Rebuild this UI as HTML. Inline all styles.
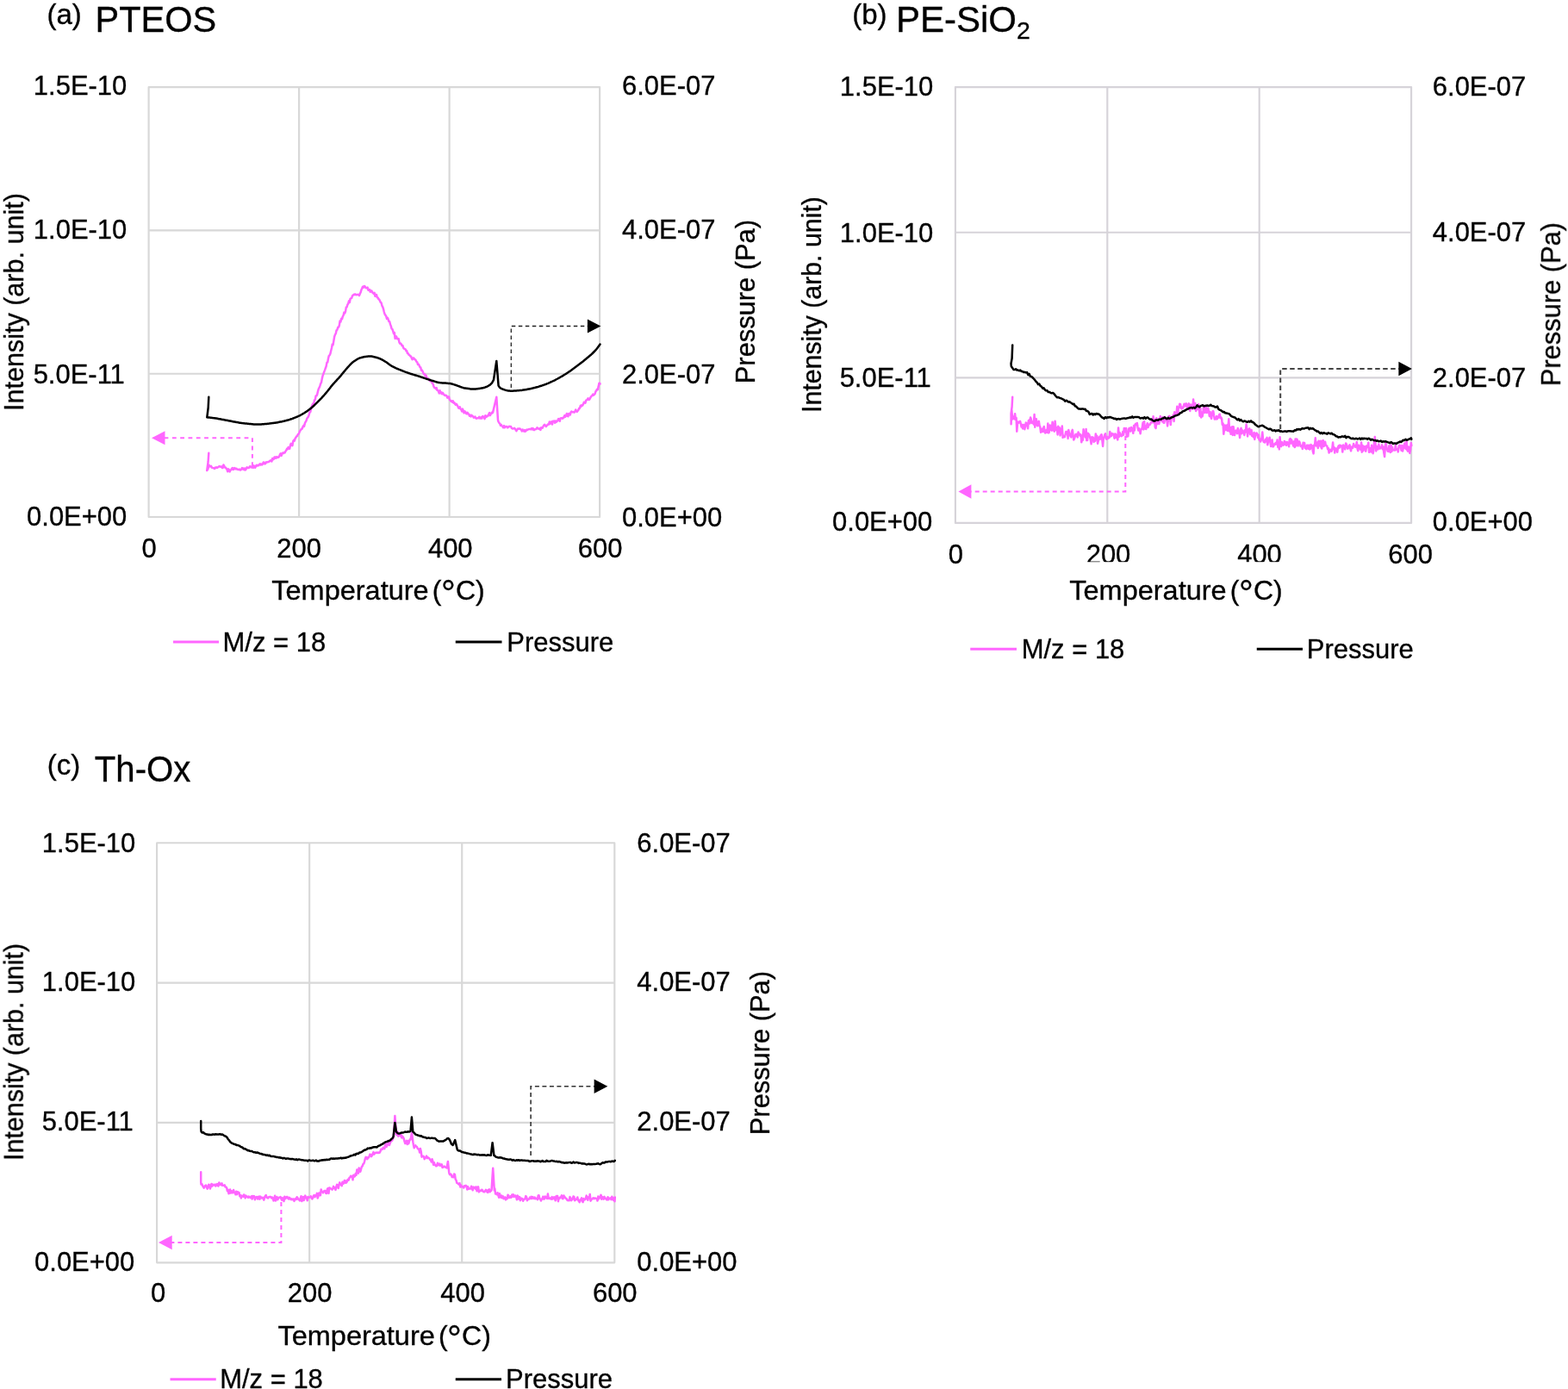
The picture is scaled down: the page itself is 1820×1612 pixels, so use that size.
<!DOCTYPE html>
<html lang="en"><head><meta charset="utf-8"><title>TDS spectra</title>
<style>
html,body{margin:0;padding:0;background:#fff;}
body{width:1820px;height:1612px;overflow:hidden;}
svg{display:block;}
text{font-family:"Liberation Sans",Arial,Helvetica,sans-serif;fill:#000;stroke:#000;stroke-width:0.35px;}
</style></head>
<body>
<svg width="1820" height="1612" viewBox="0 0 1820 1612">
<defs><filter id="soft" filterUnits="userSpaceOnUse" x="0" y="0" width="1820" height="1612" color-interpolation-filters="sRGB"><feGaussianBlur stdDeviation="0.55"/></filter></defs>
<rect width="1820" height="1612" fill="#fff"/>
<g filter="url(#soft)">
<path d="M347.10,101.10 V600.00 M521.60,101.10 V600.00 M172.60,267.40 H696.10 M172.60,433.70 H696.10 M172.60,101.10 H696.10 V600.00 H172.60 Z" fill="none" stroke="#d8d8d8" stroke-width="2.15" stroke-linejoin="round"/>
<text font-size="32" text-anchor="end" transform="translate(147.3 110.2) scale(0.968 1)">1.5E-10</text>
<text font-size="32" text-anchor="end" transform="translate(147.3 277.2) scale(0.968 1)">1.0E-10</text>
<text font-size="32" text-anchor="end" transform="translate(144.8 445.2) scale(0.968 1)">5.0E-11</text>
<text font-size="32" text-anchor="end" transform="translate(147.3 610.2) scale(0.968 1)">0.0E+00</text>
<text font-size="32" text-anchor="start" transform="translate(722.0 110.1) scale(0.968 1)">6.0E-07</text>
<text font-size="32" text-anchor="start" transform="translate(722.0 277.2) scale(0.968 1)">4.0E-07</text>
<text font-size="32" text-anchor="start" transform="translate(722.0 444.7) scale(0.968 1)">2.0E-07</text>
<text font-size="32" text-anchor="start" transform="translate(722.0 610.5) scale(0.968 1)">0.0E+00</text>
<text font-size="32" text-anchor="middle" transform="translate(173 647.2) scale(0.968 1)">0</text>
<text font-size="32" text-anchor="middle" transform="translate(347.2 647.2) scale(0.968 1)">200</text>
<text font-size="32" text-anchor="middle" transform="translate(522.75 647.2) scale(0.968 1)">400</text>
<text font-size="32" text-anchor="middle" transform="translate(696.6 647.2) scale(0.968 1)">600</text>
<text y="696.3" font-size="32"><tspan x="315.3" textLength="182.3" lengthAdjust="spacingAndGlyphs">Temperature</tspan><tspan x="492.9"> (</tspan><tspan x="511.9" dy="7.0" font-size="42">°</tspan><tspan x="528.9" dy="-7.0">C)</tspan></text>
<text font-size="32" transform="translate(27 477) rotate(-90) scale(0.955 1)">Intensity (arb. unit)</text>
<text font-size="32" transform="translate(875.6 445.2) rotate(-90) scale(0.964 1)">Pressure (Pa)</text>
<path d="M201,745 H254" stroke="#ff66ff" stroke-width="2.8" fill="none"/>
<text font-size="32" text-anchor="start" transform="translate(258.5 755.6) scale(0.968 1)">M/z = 18</text>
<path d="M528.75,745 H582.5" stroke="#000" stroke-width="2.8" fill="none"/>
<text font-size="32" text-anchor="start" transform="translate(588.3 755.6) scale(0.968 1)">Pressure</text>
<text x="54.5" y="28.0" font-size="33" text-anchor="start">(a)</text>
<text x="110.5" y="37.4" font-size="41.8" textLength="140.6" lengthAdjust="spacingAndGlyphs">PTEOS</text>
<path d="M242.3,525.8 L241.6,536.0 L240.2,546.1 L241.0,545.0 L241.8,542.8 L242.6,539.7 L243.4,541.4 L244.2,541.2 L245.0,540.9 L245.8,542.6 L246.6,542.9 L247.4,543.2 L248.2,543.2 L249.0,543.9 L249.8,542.6 L250.6,543.0 L251.4,542.2 L252.2,542.9 L253.0,542.2 L253.8,541.7 L254.6,541.1 L255.4,541.6 L256.2,541.8 L257.0,541.4 L257.8,542.9 L258.6,542.9 L259.4,539.5 L260.2,540.7 L261.0,542.6 L261.8,542.6 L262.6,543.7 L263.4,544.6 L264.2,547.2 L265.0,544.3 L265.8,545.1 L266.6,547.4 L267.4,545.6 L268.2,545.3 L269.0,543.9 L269.8,543.0 L270.6,544.9 L271.4,544.7 L272.2,543.1 L273.0,543.6 L273.8,544.4 L274.6,543.7 L275.4,544.7 L276.2,544.9 L277.0,545.0 L277.8,544.5 L278.6,545.5 L279.4,545.5 L280.2,544.5 L281.0,543.0 L281.8,544.5 L282.6,543.5 L283.4,545.3 L284.2,543.6 L285.0,545.4 L285.8,544.0 L286.6,542.4 L287.4,542.9 L288.2,542.9 L289.0,542.9 L289.8,541.5 L290.6,541.2 L291.4,542.4 L292.2,541.7 L293.0,542.4 L293.8,542.9 L294.6,540.4 L295.4,542.1 L296.2,542.8 L297.0,540.9 L297.8,539.7 L298.6,540.6 L299.4,539.7 L300.2,540.3 L301.0,539.3 L301.8,538.3 L302.6,539.4 L303.4,538.6 L304.2,539.4 L305.0,538.5 L305.8,536.4 L306.6,536.6 L307.4,538.4 L308.2,538.0 L309.0,536.3 L309.8,536.4 L310.6,536.3 L311.4,535.9 L312.2,536.0 L313.0,535.0 L313.8,534.4 L314.6,534.2 L315.4,535.5 L316.2,531.9 L317.0,533.3 L317.8,532.7 L318.6,530.5 L319.4,531.7 L320.2,530.3 L321.0,531.5 L321.8,530.2 L322.6,530.7 L323.4,530.7 L324.2,529.3 L325.0,527.5 L325.8,526.2 L326.6,528.9 L327.4,526.5 L328.2,525.5 L329.0,526.0 L329.8,525.2 L330.6,525.4 L331.4,523.7 L332.2,522.7 L333.0,520.9 L333.8,521.2 L334.6,519.1 L335.4,520.4 L336.2,520.8 L337.0,516.8 L337.8,514.8 L338.6,516.6 L339.4,517.1 L340.2,512.2 L341.0,510.8 L341.8,511.6 L342.6,508.9 L343.4,507.8 L344.2,506.4 L345.0,506.1 L345.8,504.2 L346.6,503.8 L347.4,502.0 L348.2,499.9 L349.0,499.3 L349.8,497.7 L350.6,497.7 L351.4,495.5 L352.2,494.1 L353.0,494.9 L353.8,491.6 L354.6,489.7 L355.4,488.6 L356.2,486.0 L357.0,484.7 L357.8,483.7 L358.6,481.8 L359.4,478.4 L360.2,478.2 L361.0,474.4 L361.8,471.7 L362.6,469.7 L363.4,468.3 L364.2,468.6 L365.0,464.3 L365.8,463.9 L366.6,459.5 L367.4,459.3 L368.2,457.8 L369.0,454.1 L369.8,451.3 L370.6,449.9 L371.4,447.9 L372.2,445.2 L373.0,443.8 L373.8,439.4 L374.6,436.0 L375.4,434.0 L376.2,431.6 L377.0,429.6 L377.8,427.3 L378.6,425.3 L379.4,420.9 L380.2,420.5 L381.0,416.2 L381.8,412.9 L382.6,412.3 L383.4,410.5 L384.2,407.0 L385.0,403.7 L385.8,399.4 L386.6,400.1 L387.4,395.2 L388.2,390.5 L389.0,388.4 L389.8,387.0 L390.6,383.2 L391.4,382.7 L392.2,380.0 L393.0,379.7 L393.8,377.7 L394.6,372.4 L395.4,373.4 L396.2,369.7 L397.0,370.3 L397.8,367.4 L398.6,366.0 L399.4,362.6 L400.2,363.5 L401.0,361.6 L401.8,356.6 L402.6,356.3 L403.4,353.5 L404.2,352.4 L405.0,349.4 L405.8,351.0 L406.6,346.8 L407.4,346.3 L408.2,345.8 L409.0,343.3 L409.8,342.7 L410.6,341.8 L411.4,342.1 L412.2,341.3 L413.0,342.1 L413.8,342.2 L414.6,341.8 L415.4,342.1 L416.2,341.8 L417.0,342.9 L417.8,341.0 L418.6,339.3 L419.4,336.5 L420.2,334.7 L421.0,332.7 L421.8,333.8 L422.6,332.0 L423.4,332.2 L424.2,333.5 L425.0,334.2 L425.8,334.3 L426.6,333.6 L427.4,336.6 L428.2,337.0 L429.0,336.0 L429.8,338.7 L430.6,337.6 L431.4,337.6 L432.2,339.4 L433.0,339.9 L433.8,340.9 L434.6,339.7 L435.4,343.8 L436.2,342.1 L437.0,342.1 L437.8,345.3 L438.6,345.4 L439.4,347.1 L440.2,347.6 L441.0,349.2 L441.8,350.9 L442.6,351.5 L443.4,354.8 L444.2,356.2 L445.0,358.5 L445.8,362.0 L446.6,364.6 L447.4,365.8 L448.2,367.0 L449.0,370.0 L449.8,368.8 L450.6,370.6 L451.4,373.0 L452.2,373.2 L453.0,376.4 L453.8,378.4 L454.6,381.5 L455.4,382.0 L456.2,384.3 L457.0,387.2 L457.8,386.0 L458.6,392.9 L459.4,390.1 L460.2,390.8 L461.0,393.2 L461.8,393.4 L462.6,393.1 L463.4,397.1 L464.2,398.7 L465.0,398.4 L465.8,399.5 L466.6,401.2 L467.4,401.0 L468.2,403.6 L469.0,404.6 L469.8,405.0 L470.6,405.3 L471.4,407.2 L472.2,407.3 L473.0,410.1 L473.8,410.3 L474.6,411.9 L475.4,412.2 L476.2,413.4 L477.0,413.4 L477.8,415.6 L478.6,417.2 L479.4,415.4 L480.2,415.5 L481.0,416.7 L481.8,417.3 L482.6,418.0 L483.4,419.7 L484.2,420.2 L485.0,423.0 L485.8,422.7 L486.6,424.1 L487.4,426.1 L488.2,426.4 L489.0,429.8 L489.8,429.6 L490.6,431.1 L491.4,433.0 L492.2,434.4 L493.0,434.1 L493.8,436.5 L494.6,435.7 L495.4,439.5 L496.2,438.9 L497.0,439.4 L497.8,440.3 L498.6,441.6 L499.4,442.3 L500.2,442.1 L501.0,443.1 L501.8,444.9 L502.6,445.7 L503.4,448.4 L504.2,449.9 L505.0,449.9 L505.8,451.2 L506.6,450.1 L507.4,452.8 L508.2,453.0 L509.0,454.5 L509.8,456.4 L510.6,453.3 L511.4,456.3 L512.2,455.3 L513.0,457.3 L513.8,455.8 L514.6,457.0 L515.4,458.0 L516.2,458.8 L517.0,458.9 L517.8,458.8 L518.6,459.7 L519.4,461.7 L520.2,461.4 L521.0,460.4 L521.8,463.8 L522.6,464.4 L523.4,465.7 L524.2,465.2 L525.0,466.8 L525.8,465.4 L526.6,467.6 L527.4,467.2 L528.2,469.0 L529.0,469.9 L529.8,468.8 L530.6,470.3 L531.4,471.4 L532.2,473.5 L533.0,473.7 L533.8,472.3 L534.6,474.6 L535.4,475.5 L536.2,477.5 L537.0,474.6 L537.8,476.6 L538.6,479.3 L539.4,477.3 L540.2,477.9 L541.0,479.9 L541.8,480.3 L542.6,478.8 L543.4,480.4 L544.2,480.7 L545.0,482.7 L545.8,481.8 L546.6,483.4 L547.4,481.9 L548.2,482.9 L549.0,483.2 L549.8,484.7 L550.6,484.4 L551.4,483.5 L552.2,485.3 L553.0,485.8 L553.8,485.2 L554.6,485.2 L555.4,485.3 L556.2,483.8 L557.0,485.6 L557.8,485.5 L558.6,484.2 L559.4,485.5 L560.2,483.1 L561.0,483.7 L561.8,483.8 L562.6,486.1 L563.4,482.2 L564.2,484.0 L565.0,483.7 L565.8,482.4 L566.6,482.6 L567.4,480.3 L568.2,479.0 L569.0,482.1 L569.8,479.8 L570.6,480.0 L571.4,478.3 L572.0,478.9 L576.3,460.7 L578.0,487.6 L578.6,489.5 L579.4,490.9 L580.2,491.6 L581.0,493.8 L581.8,493.0 L582.6,494.5 L583.4,495.0 L584.2,496.2 L585.0,494.1 L585.8,496.3 L586.6,495.1 L587.4,495.1 L588.2,494.9 L589.0,496.3 L589.8,496.0 L590.6,494.9 L591.4,494.8 L592.2,495.1 L593.0,494.9 L593.8,496.7 L594.6,497.4 L595.4,497.4 L596.2,497.3 L597.0,496.8 L597.8,497.7 L598.6,498.8 L599.4,500.1 L600.2,498.8 L601.0,497.5 L601.8,497.8 L602.6,497.4 L603.4,497.4 L604.2,498.3 L605.0,498.8 L605.8,500.4 L606.6,498.5 L607.4,500.0 L608.2,500.6 L609.0,499.1 L609.8,500.7 L610.6,499.8 L611.4,498.6 L612.2,498.9 L613.0,498.5 L613.8,498.1 L614.6,497.9 L615.4,498.0 L616.2,498.3 L617.0,497.1 L617.8,498.3 L618.6,497.1 L619.4,498.9 L620.2,499.0 L621.0,498.2 L621.8,497.9 L622.6,497.9 L623.4,496.4 L624.2,496.9 L625.0,497.6 L625.8,497.9 L626.6,497.0 L627.4,498.9 L628.2,496.2 L629.0,496.9 L629.8,496.6 L630.6,494.6 L631.4,493.4 L632.2,492.7 L633.0,493.9 L633.8,494.9 L634.6,493.9 L635.4,493.3 L636.2,492.2 L637.0,492.5 L637.8,489.5 L638.6,491.7 L639.4,491.1 L640.2,489.3 L641.0,492.5 L641.8,488.7 L642.6,488.9 L643.4,488.5 L644.2,490.7 L645.0,488.5 L645.8,489.7 L646.6,488.9 L647.4,488.0 L648.2,486.1 L649.0,486.7 L649.8,488.8 L650.6,485.4 L651.4,485.3 L652.2,485.3 L653.0,485.7 L653.8,484.6 L654.6,484.5 L655.4,482.1 L656.2,483.6 L657.0,482.7 L657.8,480.0 L658.6,482.8 L659.4,483.3 L660.2,480.0 L661.0,480.5 L661.8,481.5 L662.6,478.3 L663.4,477.5 L664.2,478.0 L665.0,478.4 L665.8,478.0 L666.6,478.6 L667.4,477.7 L668.2,475.5 L669.0,476.9 L669.8,477.8 L670.6,476.7 L671.4,475.7 L672.2,473.7 L673.0,473.7 L673.8,470.8 L674.6,471.6 L675.4,470.0 L676.2,470.5 L677.0,469.1 L677.8,466.8 L678.6,467.3 L679.4,467.7 L680.2,464.6 L681.0,464.4 L681.8,463.5 L682.6,462.2 L683.4,464.0 L684.2,463.6 L685.0,462.1 L685.8,460.7 L686.6,459.6 L687.4,459.2 L688.2,457.6 L689.0,458.6 L689.8,457.9 L690.6,456.9 L691.4,454.3 L692.2,453.4 L693.0,451.7 L693.8,452.2 L694.6,448.9 L695.4,444.8 L696.2,444.8 L696.5,445.5" fill="none" stroke="#ff66ff" stroke-width="2.5" stroke-linejoin="round" stroke-linecap="round"/>
<path d="M242.3,460.7 L241.7,473.0 L240.3,484.3 L241.3,484.4 L242.3,484.5 L243.3,484.6 L244.3,484.7 L245.3,484.8 L246.3,484.9 L247.3,485.1 L248.3,485.2 L249.3,485.3 L250.3,485.5 L251.3,485.6 L252.3,485.8 L253.3,486.0 L254.3,486.2 L255.3,486.3 L256.3,486.5 L257.3,486.7 L258.3,486.9 L259.3,487.1 L260.3,487.3 L261.3,487.5 L262.3,487.7 L263.3,487.8 L264.3,488.0 L265.3,488.2 L266.3,488.4 L267.3,488.6 L268.3,488.8 L269.3,489.0 L270.3,489.2 L271.3,489.4 L272.3,489.6 L273.3,489.8 L274.3,490.0 L275.3,490.1 L276.3,490.3 L277.3,490.5 L278.3,490.7 L279.3,490.8 L280.3,490.9 L281.3,491.1 L282.3,491.2 L283.3,491.3 L284.3,491.4 L285.3,491.5 L286.3,491.6 L287.3,491.7 L288.3,491.8 L289.3,491.9 L290.3,492.0 L291.3,492.1 L292.3,492.2 L293.3,492.3 L294.3,492.4 L295.3,492.4 L296.3,492.4 L297.3,492.5 L298.3,492.5 L299.3,492.5 L300.3,492.5 L301.3,492.5 L302.3,492.4 L303.3,492.4 L304.3,492.3 L305.3,492.2 L306.3,492.2 L307.3,492.1 L308.3,492.0 L309.3,491.9 L310.3,491.8 L311.3,491.7 L312.3,491.6 L313.3,491.4 L314.3,491.3 L315.3,491.2 L316.3,491.1 L317.3,491.0 L318.3,490.8 L319.3,490.7 L320.3,490.5 L321.3,490.4 L322.3,490.2 L323.3,490.0 L324.3,489.8 L325.3,489.6 L326.3,489.4 L327.3,489.2 L328.3,488.9 L329.3,488.7 L330.3,488.5 L331.3,488.2 L332.3,488.0 L333.3,487.7 L334.3,487.4 L335.3,487.2 L336.3,486.9 L337.3,486.5 L338.3,486.2 L339.3,485.9 L340.3,485.5 L341.3,485.1 L342.3,484.7 L343.3,484.3 L344.3,483.9 L345.3,483.5 L346.3,483.0 L347.3,482.5 L348.3,482.1 L349.3,481.5 L350.3,481.0 L351.3,480.4 L352.3,479.8 L353.3,479.2 L354.3,478.5 L355.3,477.9 L356.3,477.2 L357.3,476.5 L358.3,475.7 L359.3,475.0 L360.3,474.2 L361.3,473.4 L362.3,472.6 L363.3,471.7 L364.3,470.8 L365.3,469.8 L366.3,468.9 L367.3,467.9 L368.3,466.9 L369.3,465.9 L370.3,464.9 L371.3,463.9 L372.3,462.8 L373.3,461.8 L374.3,460.7 L375.3,459.6 L376.3,458.5 L377.3,457.3 L378.3,456.2 L379.3,455.0 L380.3,453.8 L381.3,452.5 L382.3,451.2 L383.3,449.9 L384.3,448.6 L385.3,447.4 L386.3,446.2 L387.3,445.1 L388.3,444.0 L389.3,442.9 L390.3,441.8 L391.3,440.7 L392.3,439.6 L393.3,438.6 L394.3,437.4 L395.3,436.3 L396.3,435.1 L397.3,433.8 L398.3,432.6 L399.3,431.4 L400.3,430.2 L401.3,429.0 L402.3,427.8 L403.3,426.7 L404.3,425.6 L405.3,424.5 L406.3,423.4 L407.3,422.4 L408.3,421.4 L409.3,420.5 L410.3,419.8 L411.3,419.1 L412.3,418.4 L413.3,417.7 L414.3,417.1 L415.3,416.5 L416.3,416.0 L417.3,415.6 L418.3,415.2 L419.3,415.0 L420.3,414.7 L421.3,414.5 L422.3,414.3 L423.3,414.1 L424.3,413.9 L425.3,413.8 L426.3,413.7 L427.3,413.6 L428.3,413.5 L429.3,413.5 L430.3,413.5 L431.3,413.6 L432.3,413.8 L433.3,414.0 L434.3,414.2 L435.3,414.4 L436.3,414.7 L437.3,415.0 L438.3,415.3 L439.3,415.6 L440.3,416.0 L441.3,416.4 L442.3,416.9 L443.3,417.4 L444.3,417.9 L445.3,418.5 L446.3,419.1 L447.3,419.7 L448.3,420.3 L449.3,421.0 L450.3,421.7 L451.3,422.5 L452.3,423.2 L453.3,423.9 L454.3,424.6 L455.3,425.2 L456.3,425.7 L457.3,426.2 L458.3,426.7 L459.3,427.2 L460.3,427.6 L461.3,428.0 L462.3,428.4 L463.3,428.8 L464.3,429.2 L465.3,429.6 L466.3,430.0 L467.3,430.4 L468.3,430.8 L469.3,431.2 L470.3,431.6 L471.3,431.9 L472.3,432.3 L473.3,432.6 L474.3,433.0 L475.3,433.3 L476.3,433.7 L477.3,434.0 L478.3,434.3 L479.3,434.6 L480.3,434.9 L481.3,435.2 L482.3,435.5 L483.3,435.8 L484.3,436.1 L485.3,436.4 L486.3,436.7 L487.3,437.0 L488.3,437.4 L489.3,437.7 L490.3,438.0 L491.3,438.4 L492.3,438.7 L493.3,439.1 L494.3,439.4 L495.3,439.8 L496.3,440.1 L497.3,440.4 L498.3,440.7 L499.3,441.0 L500.3,441.4 L501.3,441.7 L502.3,442.0 L503.3,442.3 L504.3,442.6 L505.3,442.9 L506.3,443.2 L507.3,443.5 L508.3,443.7 L509.3,443.9 L510.3,444.1 L511.3,444.2 L512.3,444.3 L513.3,444.4 L514.3,444.5 L515.3,444.5 L516.3,444.6 L517.3,444.6 L518.3,444.7 L519.3,444.8 L520.3,444.9 L521.3,445.0 L522.3,445.1 L523.3,445.3 L524.3,445.5 L525.3,445.8 L526.3,446.1 L527.3,446.4 L528.3,446.7 L529.3,447.0 L530.3,447.4 L531.3,447.8 L532.3,448.1 L533.3,448.5 L534.3,448.9 L535.3,449.3 L536.3,449.6 L537.3,449.9 L538.3,450.2 L539.3,450.4 L540.3,450.5 L541.3,450.7 L542.3,450.8 L543.3,451.0 L544.3,451.1 L545.3,451.3 L546.3,451.4 L547.3,451.4 L548.3,451.5 L549.3,451.5 L550.3,451.5 L551.3,451.4 L552.3,451.4 L553.3,451.3 L554.3,451.2 L555.3,451.0 L556.3,450.9 L557.3,450.7 L558.3,450.6 L559.3,450.4 L560.3,450.2 L561.3,450.0 L562.3,449.7 L563.3,449.4 L564.3,449.0 L565.3,448.6 L566.3,448.1 L567.3,447.5 L568.3,446.9 L569.3,446.2 L570.3,445.2 L571.3,443.9 L572.3,442.2 L573.0,440.7 L576.3,419.0 L578.6,447.6 L579.3,448.7 L580.3,449.9 L581.3,450.6 L582.3,451.1 L583.3,451.5 L584.3,451.9 L585.3,452.2 L586.3,452.6 L587.3,452.9 L588.3,453.1 L589.3,453.4 L590.3,453.5 L591.3,453.6 L592.3,453.7 L593.3,453.7 L594.3,453.7 L595.3,453.7 L596.3,453.6 L597.3,453.6 L598.3,453.5 L599.3,453.4 L600.3,453.3 L601.3,453.2 L602.3,453.2 L603.3,453.1 L604.3,453.0 L605.3,452.9 L606.3,452.8 L607.3,452.6 L608.3,452.5 L609.3,452.3 L610.3,452.2 L611.3,452.0 L612.3,451.8 L613.3,451.6 L614.3,451.4 L615.3,451.2 L616.3,451.0 L617.3,450.8 L618.3,450.5 L619.3,450.3 L620.3,450.0 L621.3,449.8 L622.3,449.5 L623.3,449.2 L624.3,449.0 L625.3,448.7 L626.3,448.3 L627.3,448.0 L628.3,447.7 L629.3,447.4 L630.3,447.0 L631.3,446.7 L632.3,446.3 L633.3,446.0 L634.3,445.6 L635.3,445.2 L636.3,444.8 L637.3,444.3 L638.3,443.9 L639.3,443.4 L640.3,443.0 L641.3,442.5 L642.3,442.0 L643.3,441.6 L644.3,441.1 L645.3,440.5 L646.3,440.0 L647.3,439.5 L648.3,438.9 L649.3,438.4 L650.3,437.8 L651.3,437.2 L652.3,436.7 L653.3,436.1 L654.3,435.4 L655.3,434.8 L656.3,434.2 L657.3,433.6 L658.3,432.9 L659.3,432.3 L660.3,431.6 L661.3,430.9 L662.3,430.2 L663.3,429.5 L664.3,428.7 L665.3,428.0 L666.3,427.3 L667.3,426.5 L668.3,425.8 L669.3,425.0 L670.3,424.3 L671.3,423.5 L672.3,422.8 L673.3,422.0 L674.3,421.2 L675.3,420.4 L676.3,419.7 L677.3,418.9 L678.3,418.1 L679.3,417.2 L680.3,416.4 L681.3,415.6 L682.3,414.7 L683.3,413.9 L684.3,413.1 L685.3,412.2 L686.3,411.4 L687.3,410.5 L688.3,409.5 L689.3,408.5 L690.3,407.5 L691.3,406.4 L692.3,405.2 L693.3,403.9 L694.3,402.6 L695.3,401.2 L696.3,399.8 L696.5,399.5" fill="none" stroke="#000" stroke-width="2.5" stroke-linejoin="round" stroke-linecap="round"/>
<path d="M292.9,541 V508.3 H190" fill="none" stroke="#ff66ff" stroke-width="2" stroke-dasharray="4.8 4.5"/>
<path d="M176,508.3 L191.5,500.3 L191.5,516.3 Z" fill="#ff66ff"/>
<path d="M593.3,450 V378.5 H682" fill="none" stroke="#222" stroke-width="1.3" stroke-dasharray="4.5 3.5"/>
<path d="M697.4,378.5 L681.9,370.5 L681.9,386.5 Z" fill="#000"/>
<path d="M1285.30,101.10 V606.90 M1461.70,101.10 V606.90 M1108.90,269.70 H1638.10 M1108.90,438.30 H1638.10 M1108.90,101.10 H1638.10 V606.90 H1108.90 Z" fill="none" stroke="#d6d3d9" stroke-width="2.15" stroke-linejoin="round"/>
<text font-size="32" text-anchor="end" transform="translate(1083.3 110.7) scale(0.968 1)">1.5E-10</text>
<text font-size="32" text-anchor="end" transform="translate(1083.3 280.5) scale(0.968 1)">1.0E-10</text>
<text font-size="32" text-anchor="end" transform="translate(1080.8 449.2) scale(0.968 1)">5.0E-11</text>
<text font-size="32" text-anchor="end" transform="translate(1082.3 616.4) scale(0.968 1)">0.0E+00</text>
<text font-size="32" text-anchor="start" transform="translate(1662.8 110.9) scale(0.968 1)">6.0E-07</text>
<text font-size="32" text-anchor="start" transform="translate(1662.8 280.2) scale(0.968 1)">4.0E-07</text>
<text font-size="32" text-anchor="start" transform="translate(1662.8 449.0) scale(0.968 1)">2.0E-07</text>
<text font-size="32" text-anchor="start" transform="translate(1662.8 616.2) scale(0.968 1)">0.0E+00</text>
<text font-size="32" text-anchor="middle" transform="translate(1109.4 654.2) scale(0.968 1)">0</text>
<text font-size="32" text-anchor="middle" transform="translate(1286.5 654.2) scale(0.968 1)">200</text>
<text font-size="32" text-anchor="middle" transform="translate(1462 654.2) scale(0.968 1)">400</text>
<text font-size="32" text-anchor="middle" transform="translate(1637.2 654.2) scale(0.968 1)">600</text>
<rect x="1230" y="652.2" width="270" height="15.799999999999955" fill="#fff"/>
<text y="696.3" font-size="32"><tspan x="1241.3" textLength="182.3" lengthAdjust="spacingAndGlyphs">Temperature</tspan><tspan x="1418.9"> (</tspan><tspan x="1437.9" dy="7.0" font-size="42">°</tspan><tspan x="1454.9" dy="-7.0">C)</tspan></text>
<text font-size="32" transform="translate(953 479) rotate(-90) scale(0.947 1)">Intensity (arb. unit)</text>
<text font-size="32" transform="translate(1811 448.2) rotate(-90) scale(0.964 1)">Pressure (Pa)</text>
<path d="M1126.25,753.25 H1180" stroke="#ff66ff" stroke-width="2.8" fill="none"/>
<text font-size="32" text-anchor="start" transform="translate(1185.7 763.8) scale(0.968 1)">M/z = 18</text>
<path d="M1458.75,753.25 H1512" stroke="#000" stroke-width="2.8" fill="none"/>
<text font-size="32" text-anchor="start" transform="translate(1516.8 763.8) scale(0.968 1)">Pressure</text>
<text x="989.2" y="28.2" font-size="33" text-anchor="start">(b)</text>
<text x="1040.0" y="37.0" font-size="42">PE-SiO<tspan font-size="28.5" dy="8">2</tspan></text>
<path d="M1175.2,460.7 L1174.6,472.0 L1173.6,480.0 L1173.6,492.2 L1174.3,475.5 L1175.1,486.4 L1175.8,483.4 L1176.6,484.6 L1177.3,486.1 L1178.1,480.2 L1178.8,487.0 L1179.6,485.0 L1180.3,500.7 L1181.1,490.6 L1181.8,489.6 L1182.6,490.6 L1183.3,489.9 L1184.1,488.9 L1184.8,491.8 L1185.6,495.4 L1186.3,493.0 L1187.1,497.4 L1187.8,492.9 L1188.6,493.2 L1189.3,498.2 L1190.1,494.4 L1190.8,490.6 L1191.6,491.3 L1192.3,493.2 L1193.1,497.3 L1193.8,488.4 L1194.6,487.5 L1195.3,491.4 L1196.1,484.4 L1196.8,486.5 L1197.6,490.9 L1198.3,490.3 L1199.1,489.3 L1199.8,492.5 L1200.6,481.1 L1201.3,495.7 L1202.1,488.8 L1202.8,486.1 L1203.6,492.8 L1204.3,494.3 L1205.1,490.4 L1205.8,488.8 L1206.6,494.1 L1207.3,495.4 L1208.1,501.8 L1208.8,499.7 L1209.6,497.7 L1210.3,501.1 L1211.1,496.9 L1211.8,495.0 L1212.6,501.4 L1213.3,502.5 L1214.1,500.5 L1214.8,498.7 L1215.6,501.9 L1216.3,491.5 L1217.1,502.5 L1217.8,501.6 L1218.6,493.5 L1219.3,498.7 L1220.1,494.0 L1220.8,499.7 L1221.6,489.7 L1222.3,493.8 L1223.1,499.3 L1223.8,500.6 L1224.6,488.7 L1225.3,495.4 L1226.1,499.2 L1226.8,496.3 L1227.6,504.4 L1228.3,494.8 L1229.1,501.0 L1229.8,496.4 L1230.6,505.4 L1231.3,500.1 L1232.1,498.9 L1232.8,494.6 L1233.6,507.8 L1234.3,505.5 L1235.1,506.0 L1235.8,507.2 L1236.6,504.2 L1237.3,500.9 L1238.1,500.9 L1238.8,501.0 L1239.6,508.9 L1240.3,499.1 L1241.1,502.9 L1241.8,504.4 L1242.6,506.4 L1243.3,507.4 L1244.1,500.6 L1244.8,498.9 L1245.6,505.5 L1246.3,510.5 L1247.1,508.8 L1247.8,506.3 L1248.6,504.0 L1249.3,505.9 L1250.1,503.8 L1250.8,507.4 L1251.6,501.4 L1252.3,504.6 L1253.1,503.5 L1253.8,505.6 L1254.6,504.5 L1255.3,513.3 L1256.1,510.2 L1256.8,510.8 L1257.6,498.3 L1258.3,504.3 L1259.1,503.3 L1259.8,507.6 L1260.6,498.1 L1261.3,511.1 L1262.1,511.1 L1262.8,502.7 L1263.6,503.8 L1264.3,504.5 L1265.1,507.6 L1265.8,510.0 L1266.6,515.3 L1267.3,507.3 L1268.1,510.4 L1268.8,507.6 L1269.6,513.0 L1270.3,509.3 L1271.1,511.7 L1271.8,503.4 L1272.6,507.3 L1273.3,505.8 L1274.1,514.8 L1274.8,511.8 L1275.6,508.0 L1276.3,506.9 L1277.1,509.6 L1277.8,504.9 L1278.6,504.2 L1279.3,510.1 L1280.1,517.9 L1280.8,508.3 L1281.6,507.0 L1282.3,504.4 L1283.1,503.2 L1283.8,509.1 L1284.6,509.8 L1285.3,507.0 L1286.1,508.7 L1286.8,508.3 L1287.6,507.9 L1288.3,501.1 L1289.1,504.4 L1289.8,506.2 L1290.6,503.0 L1291.3,504.5 L1292.1,503.6 L1292.8,505.2 L1293.6,508.7 L1294.3,503.4 L1295.1,504.2 L1295.8,507.9 L1296.6,507.2 L1297.3,510.4 L1298.1,496.4 L1298.8,507.0 L1299.6,502.0 L1300.3,503.8 L1301.1,505.8 L1301.8,506.2 L1302.6,505.4 L1303.3,500.9 L1304.1,504.7 L1304.8,496.9 L1305.6,497.3 L1306.3,501.2 L1307.1,496.9 L1307.8,506.9 L1308.6,502.5 L1309.3,506.3 L1310.1,498.1 L1310.8,496.7 L1311.6,498.6 L1312.3,500.6 L1313.1,495.9 L1313.8,499.3 L1314.6,497.5 L1315.3,502.8 L1316.1,494.0 L1316.8,499.5 L1317.6,492.9 L1318.3,491.7 L1319.1,492.7 L1319.8,491.0 L1320.6,495.9 L1321.3,499.6 L1322.1,497.2 L1322.8,499.5 L1323.6,503.3 L1324.3,498.5 L1325.1,498.2 L1325.8,496.0 L1326.6,490.5 L1327.3,498.5 L1328.1,489.2 L1328.8,497.4 L1329.6,494.4 L1330.3,498.0 L1331.1,493.6 L1331.8,491.2 L1332.6,495.9 L1333.3,492.6 L1334.1,493.3 L1334.8,492.8 L1335.6,491.1 L1336.3,490.3 L1337.1,487.8 L1337.8,490.2 L1338.6,483.2 L1339.3,490.4 L1340.1,486.9 L1340.8,495.8 L1341.6,496.9 L1342.3,485.2 L1343.1,492.2 L1343.8,490.5 L1344.6,486.6 L1345.3,491.9 L1346.1,487.9 L1346.8,482.9 L1347.6,487.9 L1348.3,488.1 L1349.1,489.1 L1349.8,484.1 L1350.6,490.5 L1351.3,490.8 L1352.1,484.1 L1352.8,485.8 L1353.6,487.7 L1354.3,485.9 L1355.1,494.4 L1355.8,488.7 L1356.6,483.3 L1357.3,482.8 L1358.1,484.6 L1358.8,493.1 L1359.6,484.2 L1360.3,484.8 L1361.1,485.0 L1361.8,481.6 L1362.6,488.9 L1363.3,478.2 L1364.1,482.2 L1364.8,479.0 L1365.6,479.3 L1366.3,471.8 L1367.1,481.5 L1367.8,473.7 L1368.6,473.1 L1369.3,468.8 L1370.1,469.1 L1370.8,473.5 L1371.6,474.3 L1372.3,472.5 L1373.1,473.5 L1373.8,471.4 L1374.6,468.7 L1375.3,471.3 L1376.1,470.5 L1376.8,468.4 L1377.6,471.8 L1378.3,473.9 L1379.1,470.2 L1379.8,468.3 L1380.6,472.4 L1381.3,476.9 L1382.1,469.6 L1382.8,470.2 L1383.6,470.0 L1384.3,474.7 L1385.1,463.5 L1385.8,471.3 L1386.6,474.5 L1387.3,468.0 L1388.1,477.0 L1388.8,474.4 L1389.6,471.5 L1390.3,475.0 L1391.1,469.3 L1391.8,473.3 L1392.6,482.7 L1393.3,473.8 L1394.1,484.5 L1394.8,478.6 L1395.6,483.2 L1396.3,479.8 L1397.1,471.1 L1397.8,476.6 L1398.6,478.8 L1399.3,473.2 L1400.1,472.3 L1400.8,479.1 L1401.6,476.7 L1402.3,473.9 L1403.1,477.6 L1403.8,482.9 L1404.6,478.0 L1405.3,483.4 L1406.1,485.8 L1406.8,480.9 L1407.6,477.2 L1408.3,477.2 L1409.1,482.5 L1409.8,486.5 L1410.6,485.0 L1411.3,486.4 L1412.1,483.1 L1412.8,486.3 L1413.6,483.9 L1414.3,484.6 L1415.1,481.2 L1415.8,480.6 L1416.6,485.3 L1417.3,484.2 L1418.1,486.0 L1418.8,493.0 L1419.6,491.4 L1420.3,503.8 L1421.1,498.1 L1421.8,493.5 L1422.6,498.9 L1423.3,497.3 L1424.1,493.5 L1424.8,500.1 L1425.6,493.9 L1426.3,486.3 L1427.1,500.6 L1427.8,495.7 L1428.6,503.8 L1429.3,496.8 L1430.1,495.2 L1430.8,504.9 L1431.6,495.3 L1432.3,500.1 L1433.1,505.0 L1433.8,500.3 L1434.6,499.6 L1435.3,500.4 L1436.1,503.1 L1436.8,497.1 L1437.6,501.9 L1438.3,501.6 L1439.1,508.0 L1439.8,498.7 L1440.6,496.9 L1441.3,503.2 L1442.1,499.4 L1442.8,501.7 L1443.6,501.0 L1444.3,504.9 L1445.1,499.0 L1445.8,501.5 L1446.6,492.6 L1447.3,498.2 L1448.1,506.5 L1448.8,498.5 L1449.6,498.7 L1450.3,497.3 L1451.1,504.2 L1451.8,503.3 L1452.6,499.0 L1453.3,506.1 L1454.1,505.0 L1454.8,507.1 L1455.6,502.0 L1456.3,509.9 L1457.1,504.8 L1457.8,503.2 L1458.6,502.5 L1459.3,503.9 L1460.1,508.1 L1460.8,504.7 L1461.6,510.6 L1462.3,509.5 L1463.1,512.5 L1463.8,510.7 L1464.6,507.8 L1465.3,501.6 L1466.1,510.2 L1466.8,513.0 L1467.6,511.6 L1468.3,513.5 L1469.1,509.8 L1469.8,510.0 L1470.6,507.9 L1471.3,516.3 L1472.1,512.3 L1472.8,510.4 L1473.6,507.8 L1474.3,512.2 L1475.1,518.0 L1475.8,514.5 L1476.6,510.4 L1477.3,518.4 L1478.1,518.2 L1478.8,516.1 L1479.6,514.8 L1480.3,515.8 L1481.1,513.9 L1481.8,515.4 L1482.6,510.5 L1483.3,518.9 L1484.1,514.5 L1484.8,521.4 L1485.6,507.3 L1486.3,517.4 L1487.1,518.2 L1487.8,513.0 L1488.6,515.6 L1489.3,516.6 L1490.1,516.1 L1490.8,511.9 L1491.6,512.8 L1492.3,516.2 L1493.1,516.8 L1493.8,512.9 L1494.6,513.8 L1495.3,515.2 L1496.1,518.3 L1496.8,510.2 L1497.6,509.1 L1498.3,514.6 L1499.1,510.5 L1499.8,512.6 L1500.6,515.5 L1501.3,517.5 L1502.1,512.2 L1502.8,519.1 L1503.6,509.6 L1504.3,517.4 L1505.1,509.4 L1505.8,510.4 L1506.6,517.4 L1507.3,513.7 L1508.1,512.3 L1508.8,513.9 L1509.6,518.1 L1510.3,517.2 L1511.1,517.6 L1511.8,521.0 L1512.6,513.8 L1513.3,514.2 L1514.1,514.0 L1514.8,520.1 L1515.6,519.6 L1516.3,521.1 L1517.1,516.8 L1517.8,516.7 L1518.6,520.8 L1519.3,516.8 L1520.1,521.5 L1520.8,521.2 L1521.6,516.0 L1522.3,517.8 L1523.1,517.3 L1523.8,523.7 L1524.6,526.4 L1525.3,516.4 L1526.1,516.6 L1526.8,508.3 L1527.6,517.4 L1528.3,517.0 L1529.1,513.4 L1529.8,520.1 L1530.6,511.7 L1531.3,516.4 L1532.1,517.3 L1532.8,511.8 L1533.6,519.5 L1534.3,520.5 L1535.1,511.5 L1535.8,511.0 L1536.6,518.1 L1537.3,516.3 L1538.1,512.7 L1538.8,516.5 L1539.6,517.5 L1540.3,517.5 L1541.1,521.2 L1541.8,520.1 L1542.6,525.5 L1543.3,524.2 L1544.1,521.8 L1544.8,523.2 L1545.6,523.7 L1546.3,520.8 L1547.1,513.4 L1547.8,521.2 L1548.6,519.2 L1549.3,525.6 L1550.1,520.4 L1550.8,521.8 L1551.6,520.5 L1552.3,524.7 L1553.1,518.9 L1553.8,517.4 L1554.6,519.6 L1555.3,516.6 L1556.1,518.2 L1556.8,517.3 L1557.6,518.4 L1558.3,524.6 L1559.1,516.5 L1559.8,518.5 L1560.6,518.1 L1561.3,521.4 L1562.1,514.4 L1562.8,515.5 L1563.6,517.9 L1564.3,520.8 L1565.1,519.6 L1565.8,518.1 L1566.6,516.4 L1567.3,520.7 L1568.1,523.3 L1568.8,518.8 L1569.6,518.3 L1570.3,519.6 L1571.1,514.9 L1571.8,517.1 L1572.6,517.0 L1573.3,518.9 L1574.1,517.6 L1574.8,513.0 L1575.6,520.9 L1576.3,523.1 L1577.1,516.8 L1577.8,520.1 L1578.6,520.0 L1579.3,521.9 L1580.1,513.6 L1580.8,524.7 L1581.6,517.1 L1582.3,523.2 L1583.1,519.2 L1583.8,518.1 L1584.6,519.6 L1585.3,523.7 L1586.1,517.6 L1586.8,519.2 L1587.6,518.3 L1588.3,513.7 L1589.1,524.8 L1589.8,522.5 L1590.6,520.3 L1591.3,524.4 L1592.1,516.7 L1592.8,519.9 L1593.6,526.2 L1594.3,523.2 L1595.1,511.3 L1595.8,507.1 L1596.6,515.6 L1597.3,523.4 L1598.1,518.0 L1598.8,518.8 L1599.6,521.4 L1600.3,515.6 L1601.1,519.0 L1601.8,520.6 L1602.6,519.3 L1603.3,519.4 L1604.1,516.4 L1604.8,521.2 L1605.6,518.5 L1606.3,525.3 L1607.1,530.1 L1607.8,518.2 L1608.6,512.9 L1609.3,519.1 L1610.1,521.7 L1610.8,523.8 L1611.6,523.9 L1612.3,517.4 L1613.1,517.6 L1613.8,525.1 L1614.6,516.5 L1615.3,524.1 L1616.1,519.1 L1616.8,522.6 L1617.6,522.2 L1618.3,522.3 L1619.1,522.6 L1619.8,516.6 L1620.6,521.8 L1621.3,520.9 L1622.1,521.6 L1622.8,524.4 L1623.6,518.5 L1624.3,516.8 L1625.1,516.9 L1625.8,518.8 L1626.6,522.7 L1627.3,516.9 L1628.1,523.6 L1628.8,520.0 L1629.6,518.1 L1630.3,514.4 L1631.1,520.0 L1631.8,521.0 L1632.6,511.7 L1633.3,522.2 L1634.1,523.7 L1634.8,518.6 L1635.6,518.9 L1636.3,525.9 L1637.1,521.9 L1637.8,514.1 L1638.3,517.0" fill="none" stroke="#ff66ff" stroke-width="2.5" stroke-linejoin="round" stroke-linecap="round"/>
<path d="M1175.2,400.6 L1174.6,416.1 L1173.5,422.0 L1173.8,425.1 L1175.1,426.9 L1176.4,428.9 L1177.7,429.0 L1179.0,428.2 L1180.3,429.5 L1181.6,429.5 L1182.9,430.3 L1184.2,429.6 L1185.5,430.9 L1186.8,431.1 L1188.1,432.1 L1189.4,431.8 L1190.7,432.4 L1192.0,432.1 L1193.3,435.1 L1194.6,433.9 L1195.9,436.7 L1197.2,437.1 L1198.5,438.1 L1199.8,439.5 L1201.1,440.9 L1202.4,442.8 L1203.7,443.9 L1205.0,446.1 L1206.3,445.6 L1207.6,447.9 L1208.9,448.6 L1210.2,450.7 L1211.5,450.3 L1212.8,452.3 L1214.1,453.4 L1215.4,453.1 L1216.7,455.0 L1218.0,454.9 L1219.3,455.8 L1220.6,456.3 L1221.9,455.9 L1223.2,456.8 L1224.5,458.4 L1225.8,460.1 L1227.1,461.2 L1228.4,461.0 L1229.7,461.7 L1231.0,462.1 L1232.3,462.7 L1233.6,463.3 L1234.9,463.9 L1236.2,465.6 L1237.5,464.7 L1238.8,465.4 L1240.1,466.4 L1241.4,466.2 L1242.7,467.2 L1244.0,468.0 L1245.3,469.2 L1246.6,468.8 L1247.9,471.3 L1249.2,471.7 L1250.5,473.3 L1251.8,474.4 L1253.1,474.5 L1254.4,474.8 L1255.7,474.5 L1257.0,474.5 L1258.3,474.9 L1259.6,474.7 L1260.9,476.9 L1262.2,477.0 L1263.5,478.0 L1264.8,480.9 L1266.1,480.3 L1267.4,479.9 L1268.7,481.5 L1270.0,480.3 L1271.3,481.1 L1272.6,480.0 L1273.9,480.5 L1275.2,480.4 L1276.5,481.4 L1277.8,483.1 L1279.1,484.4 L1280.4,485.0 L1281.7,485.9 L1283.0,484.0 L1284.3,485.2 L1285.6,484.3 L1286.9,484.5 L1288.2,484.0 L1289.5,484.3 L1290.8,485.0 L1292.1,485.2 L1293.4,486.1 L1294.7,485.8 L1296.0,486.9 L1297.3,486.2 L1298.6,486.1 L1299.9,486.6 L1301.2,486.1 L1302.5,485.7 L1303.8,485.6 L1305.1,485.4 L1306.4,485.9 L1307.7,485.5 L1309.0,485.1 L1310.3,485.1 L1311.6,484.3 L1312.9,484.7 L1314.2,483.4 L1315.5,484.8 L1316.8,484.0 L1318.1,483.9 L1319.4,484.1 L1320.7,483.9 L1322.0,484.2 L1323.3,485.4 L1324.6,485.3 L1325.9,484.9 L1327.2,485.6 L1328.5,484.2 L1329.8,485.8 L1331.1,484.6 L1332.4,484.6 L1333.7,486.0 L1335.0,486.7 L1336.3,486.5 L1337.6,487.7 L1338.9,488.5 L1340.2,488.8 L1341.5,487.6 L1342.8,487.4 L1344.1,487.7 L1345.4,486.8 L1346.7,486.7 L1348.0,486.5 L1349.3,485.4 L1350.6,485.4 L1351.9,484.3 L1353.2,485.5 L1354.5,486.3 L1355.8,484.8 L1357.1,485.8 L1358.4,485.4 L1359.7,484.4 L1361.0,484.0 L1362.3,483.6 L1363.6,482.6 L1364.9,482.3 L1366.2,481.8 L1367.5,481.3 L1368.8,480.6 L1370.1,478.9 L1371.4,479.0 L1372.7,477.4 L1374.0,477.0 L1375.3,476.5 L1376.6,475.6 L1377.9,474.9 L1379.2,474.5 L1380.5,473.6 L1381.8,473.2 L1383.1,473.1 L1384.4,473.5 L1385.7,472.7 L1387.0,473.6 L1388.3,472.4 L1389.6,470.4 L1390.9,471.5 L1392.2,472.4 L1393.5,471.2 L1394.8,470.7 L1396.1,470.3 L1397.4,471.4 L1398.7,471.0 L1400.0,470.7 L1401.3,470.5 L1402.6,471.0 L1403.9,470.7 L1405.2,469.7 L1406.5,471.1 L1407.8,471.2 L1409.1,471.4 L1410.4,472.4 L1411.7,472.6 L1413.0,471.5 L1414.3,474.8 L1415.6,475.6 L1416.9,476.1 L1418.2,477.0 L1419.5,478.2 L1420.8,477.9 L1422.1,479.3 L1423.4,479.4 L1424.7,479.8 L1426.0,480.0 L1427.3,480.8 L1428.6,482.5 L1429.9,483.4 L1431.2,483.8 L1432.5,484.3 L1433.8,484.7 L1435.1,486.2 L1436.4,487.3 L1437.7,486.1 L1439.0,488.2 L1440.3,487.0 L1441.6,488.5 L1442.9,489.3 L1444.2,488.6 L1445.5,488.7 L1446.8,489.6 L1448.1,489.8 L1449.4,488.8 L1450.7,489.6 L1452.0,488.3 L1453.3,489.9 L1454.6,490.0 L1455.9,491.4 L1457.2,492.9 L1458.5,493.7 L1459.8,494.9 L1461.1,495.2 L1462.4,494.4 L1463.7,494.1 L1465.0,493.7 L1466.3,494.3 L1467.6,495.3 L1468.9,496.0 L1470.2,496.8 L1471.5,497.5 L1472.8,498.3 L1474.1,497.6 L1475.4,498.2 L1476.7,499.6 L1478.0,499.7 L1479.3,499.2 L1480.6,500.4 L1481.9,499.5 L1483.2,499.9 L1484.5,499.2 L1485.8,500.7 L1487.1,500.3 L1488.4,500.9 L1489.7,500.7 L1491.0,500.4 L1492.3,500.4 L1493.6,501.0 L1494.9,500.2 L1496.2,500.2 L1497.5,500.3 L1498.8,500.6 L1500.1,500.5 L1501.4,500.7 L1502.7,499.2 L1504.0,499.6 L1505.3,498.2 L1506.6,498.5 L1507.9,498.0 L1509.2,498.7 L1510.5,497.9 L1511.8,497.1 L1513.1,497.5 L1514.4,497.2 L1515.7,496.7 L1517.0,496.6 L1518.3,496.2 L1519.6,498.1 L1520.9,496.8 L1522.2,497.6 L1523.5,497.1 L1524.8,497.9 L1526.1,499.1 L1527.4,499.7 L1528.7,500.8 L1530.0,500.5 L1531.3,502.0 L1532.6,503.1 L1533.9,502.1 L1535.2,503.2 L1536.5,502.2 L1537.8,502.9 L1539.1,502.9 L1540.4,503.7 L1541.7,502.3 L1543.0,502.8 L1544.3,503.4 L1545.6,502.7 L1546.9,504.0 L1548.2,504.2 L1549.5,505.0 L1550.8,506.3 L1552.1,506.5 L1553.4,507.7 L1554.7,507.2 L1556.0,507.3 L1557.3,506.6 L1558.6,506.6 L1559.9,507.0 L1561.2,505.8 L1562.5,508.1 L1563.8,507.0 L1565.1,507.0 L1566.4,507.6 L1567.7,508.7 L1569.0,509.2 L1570.3,508.6 L1571.6,509.3 L1572.9,509.2 L1574.2,508.8 L1575.5,509.4 L1576.8,509.3 L1578.1,508.5 L1579.4,509.9 L1580.7,508.5 L1582.0,509.4 L1583.3,508.7 L1584.6,508.9 L1585.9,508.9 L1587.2,509.7 L1588.5,508.7 L1589.8,509.4 L1591.1,510.7 L1592.4,509.8 L1593.7,510.5 L1595.0,511.3 L1596.3,510.9 L1597.6,511.8 L1598.9,511.3 L1600.2,512.2 L1601.5,512.0 L1602.8,511.6 L1604.1,513.0 L1605.4,512.3 L1606.7,512.4 L1608.0,512.2 L1609.3,512.6 L1610.6,513.1 L1611.9,513.5 L1613.2,514.2 L1614.5,513.1 L1615.8,513.9 L1617.1,514.9 L1618.4,514.4 L1619.7,514.5 L1621.0,514.9 L1622.3,513.8 L1623.6,513.4 L1624.9,512.5 L1626.2,513.0 L1627.5,512.0 L1628.8,510.7 L1630.1,511.1 L1631.4,509.8 L1632.7,510.8 L1634.0,510.3 L1635.3,509.6 L1636.6,509.3 L1637.9,508.4 L1638.3,509.7" fill="none" stroke="#000" stroke-width="2.5" stroke-linejoin="round" stroke-linecap="round"/>
<path d="M1306.3,506 V570.4 H1126" fill="none" stroke="#ff66ff" stroke-width="2" stroke-dasharray="5 4"/>
<path d="M1112.4,570.4 L1127.4,562.15 L1127.4,578.65 Z" fill="#ff66ff"/>
<path d="M1486.2,498 V428 H1624" fill="none" stroke="#444" stroke-width="2" stroke-dasharray="5.5 3.5"/>
<path d="M1638.9,428 L1623.4,419.75 L1623.4,436.25 Z" fill="#000"/>
<path d="M359.17,978.20 V1465.30 M536.23,978.20 V1465.30 M182.10,1140.57 H713.30 M182.10,1302.93 H713.30 M182.10,978.20 H713.30 V1465.30 H182.10 Z" fill="none" stroke="#d8d8d8" stroke-width="2.15" stroke-linejoin="round"/>
<text font-size="32" text-anchor="end" transform="translate(157.3 988.9) scale(0.968 1)">1.5E-10</text>
<text font-size="32" text-anchor="end" transform="translate(157.3 1150.0) scale(0.968 1)">1.0E-10</text>
<text font-size="32" text-anchor="end" transform="translate(154.8 1312.2) scale(0.968 1)">5.0E-11</text>
<text font-size="32" text-anchor="end" transform="translate(156.3 1475.2) scale(0.968 1)">0.0E+00</text>
<text font-size="32" text-anchor="start" transform="translate(739.3 989.2) scale(0.968 1)">6.0E-07</text>
<text font-size="32" text-anchor="start" transform="translate(739.3 1150.2) scale(0.968 1)">4.0E-07</text>
<text font-size="32" text-anchor="start" transform="translate(739.3 1312.2) scale(0.968 1)">2.0E-07</text>
<text font-size="32" text-anchor="start" transform="translate(739.3 1475.2) scale(0.968 1)">0.0E+00</text>
<text font-size="32" text-anchor="middle" transform="translate(183.5 1511.2) scale(0.968 1)">0</text>
<text font-size="32" text-anchor="middle" transform="translate(359.6 1511.2) scale(0.968 1)">200</text>
<text font-size="32" text-anchor="middle" transform="translate(537.1 1511.2) scale(0.968 1)">400</text>
<text font-size="32" text-anchor="middle" transform="translate(713.75 1511.2) scale(0.968 1)">600</text>
<text y="1561.3" font-size="32"><tspan x="322.5" textLength="182.3" lengthAdjust="spacingAndGlyphs">Temperature</tspan><tspan x="500.1"> (</tspan><tspan x="519.1" dy="7.0" font-size="42">°</tspan><tspan x="536.1" dy="-7.0">C)</tspan></text>
<text font-size="32" transform="translate(26.75 1347) rotate(-90) scale(0.952 1)">Intensity (arb. unit)</text>
<text font-size="32" transform="translate(893 1317.2) rotate(-90) scale(0.964 1)">Pressure (Pa)</text>
<path d="M197.5,1600.75 H250.75" stroke="#ff66ff" stroke-width="2.8" fill="none"/>
<text font-size="32" text-anchor="start" transform="translate(255.2 1611.2) scale(0.968 1)">M/z = 18</text>
<path d="M528.75,1600.75 H582" stroke="#000" stroke-width="2.8" fill="none"/>
<text font-size="32" text-anchor="start" transform="translate(587 1611.2) scale(0.968 1)">Pressure</text>
<text x="54.8" y="899.3" font-size="33" text-anchor="start">(c)</text>
<text x="109.8" y="907.2" font-size="41.8" textLength="111.6" lengthAdjust="spacingAndGlyphs">Th-Ox</text>
<path d="M233.2,1360.3 L233.2,1372.0 L233.5,1374.6 L234.3,1374.0 L235.1,1376.0 L235.9,1377.3 L236.7,1378.7 L237.5,1377.0 L238.3,1375.9 L239.1,1375.5 L239.9,1378.1 L240.7,1379.6 L241.5,1377.3 L242.3,1374.7 L243.1,1375.2 L243.9,1379.5 L244.7,1377.1 L245.5,1373.9 L246.3,1376.6 L247.1,1374.7 L247.9,1375.4 L248.7,1375.3 L249.5,1374.6 L250.3,1376.5 L251.1,1375.2 L251.9,1374.1 L252.7,1375.8 L253.5,1376.5 L254.3,1372.4 L255.1,1374.8 L255.9,1373.7 L256.7,1375.2 L257.5,1373.4 L258.3,1375.8 L259.1,1375.8 L259.9,1375.8 L260.7,1375.3 L261.5,1377.5 L262.3,1377.6 L263.1,1378.4 L263.9,1382.2 L264.7,1380.9 L265.5,1385.3 L266.3,1384.8 L267.1,1380.4 L267.9,1384.4 L268.7,1382.2 L269.5,1384.2 L270.3,1384.3 L271.1,1381.0 L271.9,1384.0 L272.7,1384.1 L273.5,1386.3 L274.3,1382.7 L275.1,1386.2 L275.9,1383.2 L276.7,1384.7 L277.5,1384.1 L278.3,1388.2 L279.1,1387.0 L279.9,1390.5 L280.7,1387.8 L281.5,1388.4 L282.3,1388.7 L283.1,1386.5 L283.9,1387.7 L284.7,1390.4 L285.5,1387.6 L286.3,1388.8 L287.1,1388.7 L287.9,1389.9 L288.7,1388.5 L289.5,1389.1 L290.3,1389.9 L291.1,1389.9 L291.9,1388.4 L292.7,1391.6 L293.5,1388.0 L294.3,1388.3 L295.1,1388.3 L295.9,1392.3 L296.7,1390.1 L297.5,1389.1 L298.3,1388.9 L299.1,1391.5 L299.9,1389.0 L300.7,1388.6 L301.5,1391.8 L302.3,1388.6 L303.1,1390.0 L303.9,1390.5 L304.7,1389.7 L305.5,1390.3 L306.3,1392.6 L307.1,1389.4 L307.9,1388.0 L308.7,1387.0 L309.5,1389.7 L310.3,1389.4 L311.1,1390.5 L311.9,1389.2 L312.7,1389.2 L313.5,1388.8 L314.3,1389.2 L315.1,1390.4 L315.9,1389.5 L316.7,1390.4 L317.5,1393.5 L318.3,1391.2 L319.1,1387.8 L319.9,1393.5 L320.7,1391.2 L321.5,1389.1 L322.3,1392.2 L323.1,1390.8 L323.9,1389.7 L324.7,1389.7 L325.5,1389.1 L326.3,1390.9 L327.1,1392.6 L327.9,1390.2 L328.7,1391.5 L329.5,1394.0 L330.3,1388.7 L331.1,1391.2 L331.9,1390.3 L332.7,1389.0 L333.5,1389.1 L334.3,1390.8 L335.1,1391.5 L335.9,1389.9 L336.7,1390.9 L337.5,1392.0 L338.3,1391.3 L339.1,1392.3 L339.9,1391.6 L340.7,1391.6 L341.5,1393.9 L342.3,1391.9 L343.1,1391.0 L343.9,1392.0 L344.7,1389.2 L345.5,1390.2 L346.3,1392.1 L347.1,1391.9 L347.9,1393.4 L348.7,1390.8 L349.5,1388.3 L350.3,1394.1 L351.1,1392.7 L351.9,1389.0 L352.7,1393.1 L353.5,1390.8 L354.3,1387.6 L355.1,1389.9 L355.9,1389.7 L356.7,1393.2 L357.5,1389.0 L358.3,1389.8 L359.1,1389.7 L359.9,1389.4 L360.7,1388.3 L361.5,1390.1 L362.3,1391.4 L363.1,1390.5 L363.9,1387.7 L364.7,1387.1 L365.5,1389.1 L366.3,1387.4 L367.1,1387.1 L367.9,1384.9 L368.7,1390.5 L369.5,1388.2 L370.3,1384.5 L371.1,1387.1 L371.9,1387.3 L372.7,1380.4 L373.5,1383.1 L374.3,1382.9 L375.1,1384.3 L375.9,1382.6 L376.7,1382.0 L377.5,1381.9 L378.3,1384.8 L379.1,1385.0 L379.9,1380.1 L380.7,1379.1 L381.5,1384.9 L382.3,1378.4 L383.1,1378.8 L383.9,1379.5 L384.7,1379.9 L385.5,1380.6 L386.3,1379.3 L387.1,1376.9 L387.9,1379.0 L388.7,1378.3 L389.5,1380.9 L390.3,1377.4 L391.1,1374.9 L391.9,1375.2 L392.7,1379.1 L393.5,1375.4 L394.3,1372.4 L395.1,1374.5 L395.9,1374.9 L396.7,1376.2 L397.5,1371.7 L398.3,1373.8 L399.1,1373.2 L399.9,1369.9 L400.7,1370.1 L401.5,1372.8 L402.3,1372.2 L403.1,1370.2 L403.9,1368.7 L404.7,1369.6 L405.5,1366.9 L406.3,1366.5 L407.1,1364.7 L407.9,1365.6 L408.7,1365.0 L409.5,1369.3 L410.3,1363.7 L411.1,1365.6 L411.9,1365.1 L412.7,1362.1 L413.5,1363.8 L414.3,1357.6 L415.1,1360.9 L415.9,1361.6 L416.7,1355.5 L417.5,1356.9 L418.3,1359.8 L419.1,1356.7 L419.9,1354.0 L420.7,1353.3 L421.5,1350.8 L422.3,1350.5 L423.1,1347.8 L423.9,1344.7 L424.7,1342.8 L425.5,1343.3 L426.3,1345.2 L427.1,1343.2 L427.9,1343.4 L428.7,1341.8 L429.5,1339.6 L430.3,1340.3 L431.1,1342.2 L431.9,1340.9 L432.7,1338.7 L433.5,1337.1 L434.3,1339.6 L435.1,1338.4 L435.9,1337.9 L436.7,1337.5 L437.5,1338.0 L438.3,1337.5 L439.1,1338.1 L439.9,1337.6 L440.7,1337.7 L441.5,1336.2 L442.3,1333.7 L443.1,1333.6 L443.9,1333.9 L444.7,1331.9 L445.5,1332.7 L446.3,1333.1 L447.1,1329.1 L447.9,1326.7 L448.7,1331.0 L449.5,1328.3 L450.3,1328.7 L451.1,1324.5 L451.9,1329.1 L452.7,1326.9 L453.5,1324.9 L454.3,1323.8 L455.1,1323.7 L455.9,1321.9 L456.7,1320.0 L456.9,1320.0 L458.4,1295.0 L460.0,1316.5 L460.7,1317.2 L461.5,1313.5 L462.3,1318.7 L463.1,1317.4 L463.9,1317.6 L464.7,1318.4 L465.5,1316.9 L466.3,1320.4 L467.1,1318.7 L467.9,1319.7 L468.7,1321.4 L469.5,1324.7 L470.3,1327.0 L471.1,1325.4 L471.9,1323.8 L472.7,1328.0 L473.5,1324.0 L474.3,1327.2 L475.1,1324.4 L475.9,1322.3 L476.6,1322.5 L478.0,1314.5 L479.4,1325.5 L479.9,1328.5 L480.7,1332.3 L481.5,1329.9 L482.3,1329.4 L483.1,1330.6 L483.9,1330.9 L484.7,1332.9 L485.5,1333.6 L486.3,1333.5 L487.1,1337.6 L487.9,1333.1 L488.7,1336.2 L489.5,1342.7 L490.3,1341.8 L491.1,1341.7 L491.9,1342.2 L492.7,1345.1 L493.5,1343.6 L494.3,1343.3 L495.1,1341.6 L495.9,1344.1 L496.7,1343.4 L497.5,1343.9 L498.3,1344.3 L499.1,1345.9 L499.9,1345.9 L500.7,1348.4 L501.5,1345.2 L502.3,1347.7 L503.1,1351.8 L503.9,1349.3 L504.7,1351.9 L505.5,1352.4 L506.3,1353.3 L507.1,1352.9 L507.9,1349.8 L508.7,1352.1 L509.5,1352.3 L510.3,1350.6 L511.1,1352.8 L511.9,1351.8 L512.7,1351.4 L513.5,1354.9 L514.3,1354.7 L515.1,1353.8 L515.9,1353.6 L516.7,1354.4 L517.5,1354.8 L518.3,1354.8 L518.6,1355.5 L519.9,1348.0 L521.2,1360.5 L521.5,1362.0 L522.3,1363.2 L523.1,1362.6 L523.9,1363.6 L524.7,1366.0 L525.5,1365.5 L526.3,1366.2 L527.1,1362.5 L527.9,1362.8 L528.7,1368.7 L529.5,1369.7 L530.3,1372.9 L531.1,1373.2 L531.9,1373.8 L532.7,1374.7 L533.5,1373.2 L534.3,1377.5 L535.1,1375.3 L535.9,1377.4 L536.7,1377.0 L537.5,1377.3 L538.3,1378.5 L539.1,1376.3 L539.9,1376.6 L540.7,1375.9 L541.5,1376.8 L542.3,1380.5 L543.1,1377.1 L543.9,1379.9 L544.7,1379.4 L545.5,1379.4 L546.3,1379.6 L547.1,1376.7 L547.9,1379.1 L548.7,1381.3 L549.5,1377.6 L550.3,1378.8 L551.1,1377.8 L551.9,1379.7 L552.7,1377.5 L553.5,1382.3 L554.3,1379.1 L555.1,1377.4 L555.9,1383.4 L556.7,1382.2 L557.5,1381.7 L558.3,1382.0 L559.1,1380.7 L559.9,1381.1 L560.7,1382.8 L561.5,1383.2 L562.3,1383.3 L563.1,1382.1 L563.9,1380.9 L564.7,1381.3 L565.5,1383.5 L566.3,1383.9 L567.1,1380.8 L567.9,1380.4 L568.7,1383.2 L569.5,1382.1 L570.3,1381.8 L570.6,1380.5 L572.2,1355.8 L573.8,1381.5 L574.3,1379.4 L575.1,1385.6 L575.9,1385.0 L576.7,1386.2 L577.5,1384.2 L578.3,1386.8 L579.1,1389.7 L579.9,1385.3 L580.7,1388.8 L581.5,1389.8 L582.3,1387.6 L583.1,1390.3 L583.9,1388.5 L584.7,1391.2 L585.5,1390.0 L586.3,1389.4 L587.1,1392.4 L587.9,1390.4 L588.7,1391.1 L589.5,1386.7 L590.3,1387.6 L591.1,1390.0 L591.9,1390.0 L592.7,1388.3 L593.5,1389.7 L594.3,1386.5 L595.1,1388.7 L595.9,1386.4 L596.7,1389.0 L597.5,1387.7 L598.3,1387.6 L599.1,1389.0 L599.9,1392.2 L600.7,1387.6 L601.5,1388.5 L602.3,1391.6 L603.1,1389.2 L603.9,1393.2 L604.7,1390.7 L605.5,1390.7 L606.3,1391.3 L607.1,1393.7 L607.9,1391.9 L608.7,1391.7 L609.5,1391.2 L610.3,1388.1 L611.1,1389.2 L611.9,1393.2 L612.7,1392.1 L613.5,1391.5 L614.3,1391.6 L615.1,1389.6 L615.9,1391.0 L616.7,1388.9 L617.5,1391.0 L618.3,1389.1 L619.1,1389.9 L619.9,1390.9 L620.7,1389.6 L621.5,1391.2 L622.3,1390.8 L623.1,1390.6 L623.9,1392.3 L624.7,1387.5 L625.5,1387.3 L626.3,1391.1 L627.1,1391.6 L627.9,1393.5 L628.7,1391.4 L629.5,1391.6 L630.3,1388.7 L631.1,1391.5 L631.9,1391.5 L632.7,1388.6 L633.5,1388.9 L634.3,1390.3 L635.1,1391.0 L635.9,1385.6 L636.7,1390.8 L637.5,1391.1 L638.3,1390.4 L639.1,1391.2 L639.9,1391.6 L640.7,1389.1 L641.5,1391.5 L642.3,1390.4 L643.1,1389.2 L643.9,1391.2 L644.7,1393.3 L645.5,1388.3 L646.3,1388.0 L647.1,1388.0 L647.9,1394.2 L648.7,1390.4 L649.5,1390.7 L650.3,1389.5 L651.1,1389.2 L651.9,1387.4 L652.7,1391.1 L653.5,1391.2 L654.3,1387.4 L655.1,1389.0 L655.9,1389.5 L656.7,1390.8 L657.5,1391.2 L658.3,1392.7 L659.1,1393.2 L659.9,1392.7 L660.7,1393.3 L661.5,1389.1 L662.3,1390.3 L663.1,1393.3 L663.9,1392.0 L664.7,1391.7 L665.5,1388.5 L666.3,1388.8 L667.1,1393.3 L667.9,1392.8 L668.7,1391.8 L669.5,1391.6 L670.3,1389.5 L671.1,1393.0 L671.9,1394.1 L672.7,1395.2 L673.5,1392.4 L674.3,1392.0 L675.1,1390.4 L675.9,1394.3 L676.7,1395.1 L677.5,1391.1 L678.3,1392.5 L679.1,1392.1 L679.9,1390.9 L680.7,1387.6 L681.5,1391.2 L682.3,1392.8 L683.1,1389.2 L683.9,1390.2 L684.7,1386.0 L685.5,1393.7 L686.3,1392.3 L687.1,1391.5 L687.9,1390.9 L688.7,1390.2 L689.5,1391.1 L690.3,1390.6 L691.1,1390.6 L691.9,1391.0 L692.7,1391.2 L693.5,1393.5 L694.3,1388.4 L695.1,1391.3 L695.9,1389.8 L696.7,1388.9 L697.5,1386.8 L698.3,1391.8 L699.1,1389.1 L699.9,1389.5 L700.7,1391.6 L701.5,1388.9 L702.3,1390.8 L703.1,1390.7 L703.9,1392.1 L704.7,1392.5 L705.5,1389.3 L706.3,1392.3 L707.1,1390.6 L707.9,1391.0 L708.7,1390.4 L709.5,1392.1 L710.3,1388.7 L711.1,1391.2 L711.9,1392.8 L712.7,1390.3 L713.5,1394.2 L713.8,1389.5" fill="none" stroke="#ff66ff" stroke-width="2.5" stroke-linejoin="round" stroke-linecap="round"/>
<path d="M233.2,1300.9 L233.2,1310.0 L233.6,1313.3 L234.8,1314.6 L236.0,1314.1 L237.2,1315.3 L238.4,1316.0 L239.6,1316.4 L240.8,1316.5 L242.0,1317.0 L243.2,1316.8 L244.4,1317.0 L245.6,1317.0 L246.8,1316.5 L248.0,1316.5 L249.2,1316.7 L250.4,1316.2 L251.6,1316.6 L252.8,1316.5 L254.0,1316.5 L255.2,1316.1 L256.4,1316.7 L257.6,1316.5 L258.8,1317.0 L260.0,1317.8 L261.2,1318.5 L262.4,1318.9 L263.6,1320.1 L264.8,1322.2 L266.0,1323.3 L267.2,1325.3 L268.4,1326.1 L269.6,1326.8 L270.8,1327.4 L272.0,1328.0 L273.2,1328.1 L274.4,1328.9 L275.6,1328.9 L276.8,1329.4 L278.0,1329.8 L279.2,1330.8 L280.4,1331.3 L281.6,1331.7 L282.8,1333.2 L284.0,1333.1 L285.2,1333.7 L286.4,1334.4 L287.6,1335.2 L288.8,1335.1 L290.0,1335.8 L291.2,1336.0 L292.4,1335.9 L293.6,1336.9 L294.8,1337.3 L296.0,1337.3 L297.2,1337.7 L298.4,1337.5 L299.6,1337.8 L300.8,1338.4 L302.0,1339.0 L303.2,1339.0 L304.4,1339.5 L305.6,1340.0 L306.8,1340.0 L308.0,1340.4 L309.2,1340.9 L310.4,1340.4 L311.6,1341.3 L312.8,1340.7 L314.0,1341.7 L315.2,1341.9 L316.4,1341.9 L317.6,1341.9 L318.8,1342.5 L320.0,1342.6 L321.2,1343.0 L322.4,1342.9 L323.6,1343.5 L324.8,1343.3 L326.0,1343.7 L327.2,1343.8 L328.4,1344.5 L329.6,1343.8 L330.8,1344.3 L332.0,1344.9 L333.2,1344.4 L334.4,1344.4 L335.6,1344.9 L336.8,1344.9 L338.0,1345.3 L339.2,1344.9 L340.4,1345.3 L341.6,1345.6 L342.8,1345.8 L344.0,1345.3 L345.2,1346.2 L346.4,1345.6 L347.6,1345.6 L348.8,1345.9 L350.0,1346.3 L351.2,1346.3 L352.4,1346.6 L353.6,1346.7 L354.8,1346.8 L356.0,1346.7 L357.2,1347.5 L358.4,1346.4 L359.6,1346.6 L360.8,1347.1 L362.0,1346.9 L363.2,1346.6 L364.4,1347.2 L365.6,1347.2 L366.8,1346.6 L368.0,1347.5 L369.2,1347.5 L370.4,1347.4 L371.6,1346.7 L372.8,1346.7 L374.0,1346.2 L375.2,1346.4 L376.4,1346.0 L377.6,1346.2 L378.8,1345.8 L380.0,1346.0 L381.2,1345.8 L382.4,1345.7 L383.6,1344.7 L384.8,1344.4 L386.0,1344.9 L387.2,1344.5 L388.4,1344.7 L389.6,1344.5 L390.8,1344.4 L392.0,1344.5 L393.2,1344.3 L394.4,1344.2 L395.6,1343.7 L396.8,1344.4 L398.0,1343.8 L399.2,1344.0 L400.4,1343.6 L401.6,1343.7 L402.8,1343.1 L404.0,1342.8 L405.2,1342.4 L406.4,1341.7 L407.6,1341.3 L408.8,1341.0 L410.0,1340.6 L411.2,1339.8 L412.4,1340.4 L413.6,1338.9 L414.8,1338.7 L416.0,1339.0 L417.2,1337.6 L418.4,1337.6 L419.6,1337.0 L420.8,1336.2 L422.0,1335.3 L423.2,1334.6 L424.4,1334.4 L425.6,1333.9 L426.8,1332.6 L428.0,1332.9 L429.2,1332.3 L430.4,1332.5 L431.6,1332.0 L432.8,1331.5 L434.0,1331.3 L435.2,1331.2 L436.4,1331.3 L437.6,1331.4 L438.8,1330.2 L440.0,1329.6 L441.2,1329.2 L442.4,1328.4 L443.6,1327.9 L444.8,1327.1 L446.0,1326.3 L447.2,1325.4 L448.4,1325.1 L449.6,1324.8 L450.8,1324.1 L452.0,1323.9 L453.2,1323.0 L454.4,1321.8 L455.6,1321.0 L456.6,1319.0 L458.4,1303.0 L460.0,1313.5 L461.6,1315.2 L462.8,1315.4 L464.0,1315.4 L465.2,1314.8 L466.4,1314.5 L467.6,1314.5 L468.8,1314.1 L470.0,1313.6 L471.2,1313.8 L472.4,1313.8 L473.6,1313.2 L474.8,1313.6 L476.0,1313.0 L476.5,1313.0 L477.9,1296.5 L479.3,1313.5 L479.6,1313.7 L480.8,1314.7 L482.0,1316.3 L483.2,1316.9 L484.4,1317.3 L485.6,1317.7 L486.8,1318.0 L488.0,1318.5 L489.2,1318.3 L490.4,1319.4 L491.6,1319.6 L492.8,1320.0 L494.0,1320.1 L495.2,1321.0 L496.4,1320.8 L497.6,1320.4 L498.8,1321.0 L500.0,1320.9 L501.2,1320.6 L502.4,1320.9 L503.6,1321.0 L504.8,1321.1 L506.0,1322.0 L507.2,1323.4 L508.4,1324.1 L509.6,1324.7 L510.8,1324.4 L512.0,1324.6 L513.2,1324.6 L514.4,1324.6 L515.6,1323.8 L516.8,1323.1 L518.0,1322.5 L519.2,1321.2 L520.4,1321.1 L521.6,1322.4 L522.8,1324.8 L524.0,1327.7 L525.7,1328.9 L528.2,1323.1 L530.7,1333.9 L531.2,1334.7 L532.4,1335.6 L533.6,1335.4 L534.8,1336.1 L536.0,1337.0 L537.2,1337.1 L538.4,1337.6 L539.6,1337.7 L540.8,1338.0 L542.0,1338.6 L543.2,1338.6 L544.4,1338.9 L545.6,1339.2 L546.8,1339.4 L548.0,1339.9 L549.2,1340.1 L550.4,1339.4 L551.6,1339.8 L552.8,1339.8 L554.0,1340.3 L555.2,1339.9 L556.4,1340.5 L557.6,1340.6 L558.8,1340.6 L560.0,1340.2 L561.2,1340.5 L562.4,1340.3 L563.6,1340.8 L564.8,1341.0 L566.0,1340.3 L567.2,1340.5 L568.4,1340.7 L569.6,1340.6 L569.8,1340.8 L571.6,1326.2 L573.4,1341.0 L574.4,1341.4 L575.6,1342.8 L576.8,1342.9 L578.0,1343.5 L579.2,1343.6 L580.4,1343.2 L581.6,1343.5 L582.8,1343.8 L584.0,1344.5 L585.2,1344.5 L586.4,1345.0 L587.6,1345.2 L588.8,1345.4 L590.0,1345.8 L591.2,1345.8 L592.4,1345.4 L593.6,1345.9 L594.8,1346.7 L596.0,1346.0 L597.2,1346.8 L598.4,1346.9 L599.6,1346.3 L600.8,1346.7 L602.0,1346.2 L603.2,1346.9 L604.4,1346.5 L605.6,1346.4 L606.8,1346.8 L608.0,1346.8 L609.2,1346.8 L610.4,1347.1 L611.6,1347.1 L612.8,1347.0 L614.0,1347.5 L615.2,1348.0 L616.4,1347.4 L617.6,1347.3 L618.8,1347.2 L620.0,1347.8 L621.2,1347.6 L622.4,1347.8 L623.6,1347.2 L624.8,1347.5 L626.0,1347.5 L627.2,1348.2 L628.4,1347.8 L629.6,1347.1 L630.8,1348.0 L632.0,1348.1 L633.2,1348.1 L634.4,1346.8 L635.6,1347.6 L636.8,1347.8 L638.0,1347.7 L639.2,1347.4 L640.4,1346.9 L641.6,1347.3 L642.8,1347.4 L644.0,1347.7 L645.2,1347.9 L646.4,1347.8 L647.6,1348.4 L648.8,1348.0 L650.0,1348.4 L651.2,1348.8 L652.4,1349.2 L653.6,1349.1 L654.8,1349.7 L656.0,1349.6 L657.2,1349.2 L658.4,1349.5 L659.6,1349.2 L660.8,1349.1 L662.0,1348.9 L663.2,1349.7 L664.4,1349.5 L665.6,1348.6 L666.8,1349.4 L668.0,1349.3 L669.2,1348.9 L670.4,1349.2 L671.6,1349.9 L672.8,1349.6 L674.0,1349.9 L675.2,1350.5 L676.4,1350.2 L677.6,1350.4 L678.8,1350.6 L680.0,1351.1 L681.2,1351.5 L682.4,1350.9 L683.6,1350.8 L684.8,1351.2 L686.0,1351.0 L687.2,1351.3 L688.4,1351.0 L689.6,1350.9 L690.8,1350.9 L692.0,1350.8 L693.2,1350.5 L694.4,1350.3 L695.6,1351.0 L696.8,1351.2 L698.0,1350.4 L699.2,1349.3 L700.4,1349.5 L701.6,1349.5 L702.8,1348.4 L704.0,1348.6 L705.2,1348.4 L706.4,1348.1 L707.6,1347.9 L708.8,1348.3 L710.0,1347.7 L711.2,1347.6 L712.4,1348.1 L713.6,1347.2 L713.8,1346.8" fill="none" stroke="#000" stroke-width="2.5" stroke-linejoin="round" stroke-linecap="round"/>
<path d="M326.4,1395 V1442 H199" fill="none" stroke="#ff66ff" stroke-width="2" stroke-dasharray="5 4"/>
<path d="M184,1442 L199.7,1433.75 L199.7,1450.25 Z" fill="#ff66ff"/>
<path d="M616.1,1341 V1260.8 H690" fill="none" stroke="#333" stroke-width="1.6" stroke-dasharray="5 3.5"/>
<path d="M705.3,1260.8 L689.5999999999999,1252.55 L689.5999999999999,1269.05 Z" fill="#000"/>
</g>
</svg>
</body></html>
